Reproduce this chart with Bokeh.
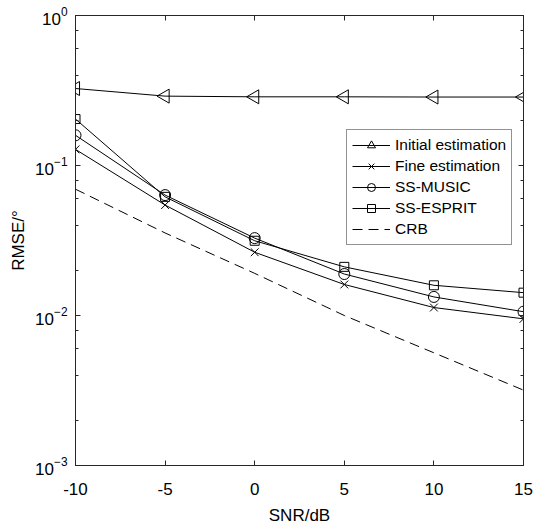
import math
from bokeh.plotting import figure
from bokeh.models import (LogAxis, LinearAxis, FixedTicker, Range1d, Legend,
                          LegendItem, LogTicker)
from bokeh.embed import file_html
from bokeh.resources import INLINE

# data
snr = [-10, -5, 0, 5, 10, 15]
initial_est = [0.326, 0.290, 0.287, 0.287, 0.286, 0.286]
fine_est = [0.128, 0.0545, 0.0264, 0.0161, 0.0113, 0.0095]
ss_music = [0.159, 0.0635, 0.0328, 0.0189, 0.0133, 0.0106]
ss_esprit = [0.204, 0.0618, 0.0315, 0.0211, 0.0159, 0.0142]
crb = [0.0695, 0.0355, 0.0191, 0.0100, 0.00564, 0.00318]
x_ticks = [-10, -5, 0, 5, 10, 15]
x_tick_labels = ["-10", "-5", "0", "5", "10", "15"]

FONT = "Liberation Sans"
AXIS_COLOR = "#262626"

p = figure(frame_width=448, frame_height=450, y_axis_type="log",
           x_range=Range1d(-10, 15), y_range=Range1d(1e-3, 1e0),
           output_backend="svg", toolbar_location=None,
           min_border_left=75, min_border_right=11, min_border_top=15,
           min_border_bottom=10)
p.grid.visible = False
p.outline_line_color = AXIS_COLOR

def style_axis(ax):
    ax.axis_line_color = AXIS_COLOR
    ax.major_tick_line_color = AXIS_COLOR
    ax.minor_tick_line_color = AXIS_COLOR
    ax.major_tick_in = 5
    ax.major_tick_out = 0
    ax.minor_tick_in = 3
    ax.minor_tick_out = 0
    ax.major_label_text_font = FONT
    ax.major_label_text_font_size = "17px"
    ax.major_label_text_color = "black"
    ax.axis_label_text_font = FONT
    ax.axis_label_text_font_size = "17px"
    ax.axis_label_text_font_style = "normal"
    ax.axis_label_text_color = "black"

xb = p.xaxis[0]
xb.ticker = FixedTicker(ticks=x_ticks)
xb.major_label_overrides = dict(zip(x_ticks, x_tick_labels))
xb.axis_label = "SNR/dB"
xb.axis_label_standoff = 8
xb.major_label_standoff = 17
style_axis(xb)

yl = p.yaxis[0]
yl.ticker = LogTicker()
yl.axis_label = "RMSE/°"
yl.axis_label_standoff = 4
yl.major_label_standoff = 8
style_axis(yl)

# box axes (top / right) with ticks only
xt = LinearAxis(ticker=FixedTicker(ticks=x_ticks), major_label_text_alpha=0)
style_axis(xt)
xt.major_label_text_font_size = "1px"
p.add_layout(xt, "above")
yr = LogAxis(ticker=LogTicker(), major_label_text_alpha=0)
style_axis(yr)
yr.major_label_text_font_size = "1px"
p.add_layout(yr, "right")

def series(ys, marker, size, angle=0.0, dash="solid"):
    r_line = p.line(snr, ys, line_color="black", line_width=1, line_dash=dash)
    out = [r_line]
    if marker is not None:
        r_pts = p.scatter(snr, ys, marker=marker, size=size, angle=angle,
                          line_color="black", line_width=1, fill_alpha=0)
        out.append(r_pts)
    return out

r_init = series(initial_est, "triangle", 14, angle=math.pi / 2)
r_fine = series(fine_est, "x", 11)
r_music = series(ss_music, "circle", 11)
r_esprit = series(ss_esprit, "square", 9)
r_crb = series(crb, None, 0, dash="10 6")

legend = Legend(items=[
    LegendItem(label="Initial estimation", renderers=r_init),
    LegendItem(label="Fine estimation", renderers=r_fine),
    LegendItem(label="SS-MUSIC", renderers=r_music),
    LegendItem(label="SS-ESPRIT", renderers=r_esprit),
    LegendItem(label="CRB", renderers=r_crb),
], location=(271, 220))
legend.label_text_font = FONT
legend.label_text_font_size = "15.5px"
legend.label_text_color = "black"
legend.label_standoff = 5
legend.glyph_width = 38
legend.glyph_height = 20
legend.label_height = 20
legend.spacing = 1
legend.padding = 5
legend.margin = 0
legend.border_line_color = AXIS_COLOR
legend.border_line_width = 1
legend.background_fill_color = "white"
p.add_layout(legend, "center")

open("out.html", "w").write(file_html(p, INLINE))
